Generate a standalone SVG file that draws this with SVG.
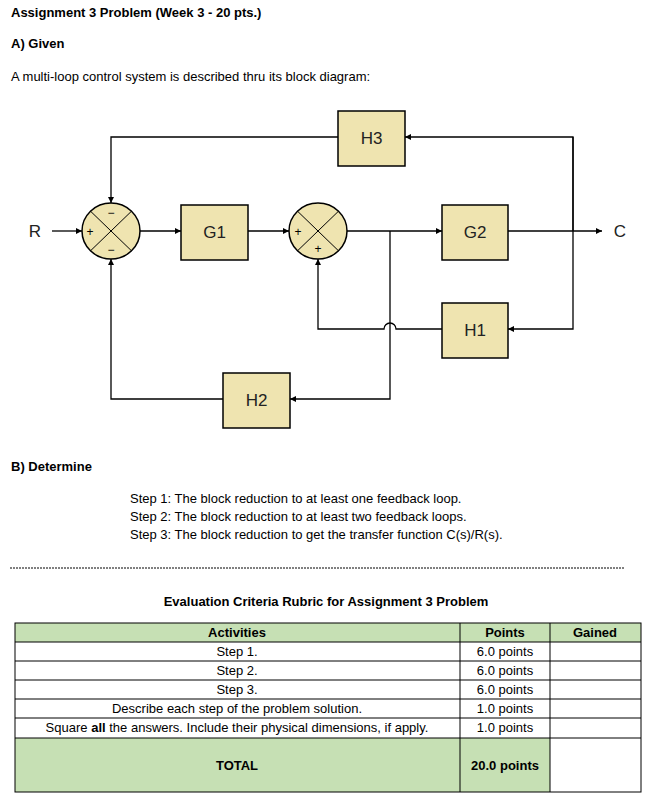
<svg xmlns="http://www.w3.org/2000/svg" width="654" height="808" viewBox="0 0 654 808">
<style>
.t{font-family:"Liberation Sans Narrow","Liberation Sans",Arial,sans-serif;font-size:13px;fill:#000}
.b{font-weight:bold}
.blk{fill:#efe4b0;stroke:#000;stroke-width:1.5}
.lbl{font-family:"Liberation Sans",Arial,sans-serif;font-size:17px;fill:#222;text-anchor:middle}
.sg{font-family:"Liberation Sans",Arial,sans-serif;font-size:12px;fill:#000;text-anchor:middle}
.w{fill:none;stroke:#000;stroke-width:1.3}
.cell{stroke:#000;stroke-width:1}
.c{text-anchor:middle}
</style>
<defs>
<marker id="a" viewBox="0 0 10 10" refX="10" refY="5" markerWidth="6" markerHeight="6" orient="auto" markerUnits="userSpaceOnUse"><path d="M0,0L10,5L0,10z" fill="#000"/></marker>
</defs>
<rect width="654" height="808" fill="#fff"/>
<text class="t b" x="11" y="17">Assignment 3 Problem (Week 3 - 20 pts.)</text>
<text class="t b" x="11" y="48">A) Given</text>
<text class="t" x="11" y="81">A multi-loop control system is described thru its block diagram:</text>

<g id="connectors" class="w">
<path d="M52,231H82" marker-end="url(#a)"/>
<path d="M140,231H181" marker-end="url(#a)"/>
<path d="M248,231H289" marker-end="url(#a)"/>
<path d="M347,231H442" marker-end="url(#a)"/>
<path d="M508,231H602" marker-end="url(#a)"/>
<path d="M573,231V137H405" marker-end="url(#a)"/>
<path d="M338,137H111V203" marker-end="url(#a)"/>
<path d="M573,137V329H508" marker-end="url(#a)"/>
<path d="M442,329H396A6,6 0 0 0 384,329H318V259" marker-end="url(#a)"/>
<path d="M390,231V399H290" marker-end="url(#a)"/>
<path d="M223,399H111V259" marker-end="url(#a)"/>
</g>

<g id="sum1">
<ellipse cx="111" cy="231" rx="29" ry="28" class="blk"/>
<path d="M90.5,211.2L131.5,250.8M131.5,211.2L90.5,250.8" stroke="#000" stroke-width="1"/>
<text class="sg" x="90" y="236">+</text>
<text class="sg" x="111" y="217">−</text>
<text class="sg" x="111" y="254">−</text>
</g>
<g id="sum2">
<ellipse cx="318" cy="231" rx="29" ry="28" class="blk"/>
<path d="M297.5,211.2L338.5,250.8M338.5,211.2L297.5,250.8" stroke="#000" stroke-width="1"/>
<text class="sg" x="298" y="236">+</text>
<text class="sg" x="318" y="253">+</text>
</g>
<g id="G1"><rect class="blk" x="181" y="205" width="67" height="55"/><text class="lbl" x="214.5" y="238">G1</text></g>
<g id="G2"><rect class="blk" x="442" y="205" width="66" height="55"/><text class="lbl" x="475" y="238">G2</text></g>
<g id="H3"><rect class="blk" x="338" y="111" width="67" height="55"/><text class="lbl" x="371.5" y="144">H3</text></g>
<g id="H1"><rect class="blk" x="442" y="303" width="66" height="55"/><text class="lbl" x="475" y="336">H1</text></g>
<g id="H2"><rect class="blk" x="223" y="373" width="67" height="55"/><text class="lbl" x="256.5" y="406">H2</text></g>
<text class="lbl" x="35" y="237">R</text>
<text class="lbl" x="620" y="237">C</text>

<text class="t b" x="11" y="471">B) Determine</text>
<text class="t" x="130" y="503">Step 1: The block reduction to at least one feedback loop.</text>
<text class="t" x="130" y="521">Step 2: The block reduction to at least two feedback loops.</text>
<text class="t" x="130" y="539">Step 3: The block reduction to get the transfer function C(s)/R(s).</text>
<line x1="10" y1="568" x2="625" y2="568" stroke="#000" stroke-width="1" stroke-dasharray="2,1"/>
<text class="t b c" x="326" y="606">Evaluation Criteria Rubric for Assignment 3 Problem</text>

<g id="table">
<rect x="15" y="623" width="626" height="19" fill="#c6e0b4"/>
<rect x="15" y="738" width="535" height="54" fill="#c6e0b4"/>
<g class="cell" fill="none">
<rect x="15" y="623" width="626" height="169"/>
<path d="M460,623V792M550,623V792M15,642H641M15,661H641M15,680H641M15,699H641M15,718H641M15,738H641"/>
</g>
<text class="t b c" x="237" y="637">Activities</text>
<text class="t b c" x="505" y="637">Points</text>
<text class="t b c" x="595" y="637">Gained</text>
<text class="t c" x="237" y="656">Step 1.</text>
<text class="t c" x="237" y="675">Step 2.</text>
<text class="t c" x="237" y="694">Step 3.</text>
<text class="t c" x="237" y="713">Describe each step of the problem solution.</text>
<text class="t c" x="237" y="732">Square <tspan class="b">all</tspan> the answers. Include their physical dimensions, if apply.</text>
<text class="t c" x="505" y="656">6.0 points</text>
<text class="t c" x="505" y="675">6.0 points</text>
<text class="t c" x="505" y="694">6.0 points</text>
<text class="t c" x="505" y="713">1.0 points</text>
<text class="t c" x="505" y="732">1.0 points</text>
<text class="t b c" x="237" y="770">TOTAL</text>
<text class="t b c" x="505" y="770">20.0 points</text>
</g>
</svg>
